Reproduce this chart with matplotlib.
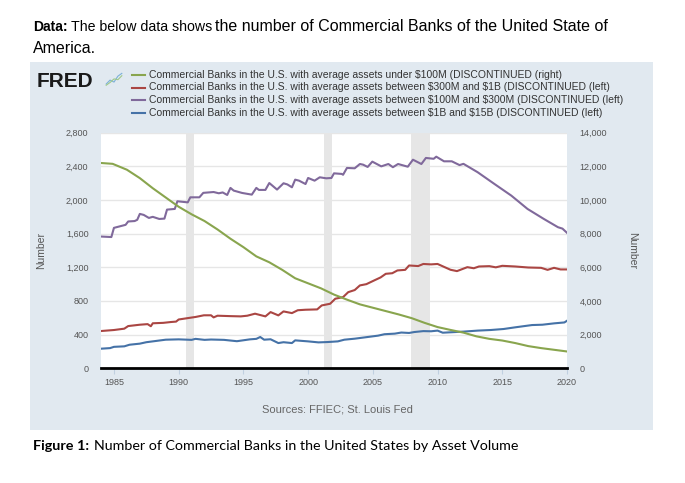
import matplotlib
matplotlib.use("Agg")
import matplotlib.pyplot as plt
import matplotlib.patches as patches
from matplotlib.ticker import FuncFormatter

# values (year, number of banks)
purple_x = [1984.0, 1984.8, 1985.0, 1985.4, 1985.9, 1986.1, 1986.6, 1986.8, 1987.0, 1987.3, 1987.7, 1988.0,
            1988.5, 1988.9, 1989.1, 1989.7, 1989.9, 1990.7, 1990.9, 1991.6, 1991.9, 1992.7, 1993.1, 1993.4,
            1993.75, 1994.0, 1994.25, 1994.9, 1995.65, 1996.0, 1996.2, 1996.7, 1997.0, 1997.3, 1997.6, 1998.1,
            1998.4, 1998.75, 1999.0, 1999.3, 1999.8, 2000.0, 2000.5, 2000.9, 2001.4, 2001.8, 2002.0, 2002.6,
            2002.7, 2003.0, 2003.6, 2004.0, 2004.25, 2004.6, 2004.96, 2005.65, 2006.2, 2006.55, 2006.95, 2007.7,
            2008.1, 2008.75, 2009.1, 2009.7, 2009.9, 2010.5, 2011.1, 2011.7, 2012.0, 2013.1, 2014.4, 2015.7,
            2016.95, 2018.2, 2019.3, 2019.65, 2020.0]
purple_y = [1566, 1560, 1669, 1685, 1705, 1745, 1750, 1765, 1835, 1823, 1787, 1800,
            1775, 1779, 1886, 1894, 1985, 1972, 2032, 2032, 2085, 2095, 2080, 2090,
            2060, 2144, 2112, 2084, 2064, 2144, 2120, 2120, 2202, 2163, 2124, 2199,
            2185, 2151, 2242, 2230, 2190, 2262, 2230, 2270, 2258, 2262, 2317, 2310,
            2300, 2381, 2377, 2428, 2420, 2393, 2456, 2400, 2428, 2390, 2428, 2396,
            2479, 2428, 2500, 2490, 2515, 2460, 2460, 2415, 2430, 2330, 2190, 2052,
            1894, 1776, 1677, 1660, 1610]

red_x = [1984.0, 1985.0, 1985.8, 1986.1, 1987.0, 1987.6, 1987.85, 1988.0, 1988.8, 1989.4, 1989.8, 1990.0,
         1990.9, 1991.3, 1991.95, 1992.5, 1992.7, 1993.0, 1994.0, 1994.8, 1995.3, 1995.9, 1996.7, 1997.1,
         1997.7, 1998.1, 1998.75, 1999.2, 1999.8, 2000.7, 2001.05, 2001.7, 2002.1, 2002.7, 2003.1, 2003.6,
         2004.0, 2004.5, 2005.1, 2005.6, 2006.0, 2006.5, 2006.9, 2007.5, 2007.8, 2008.5, 2008.9, 2009.5,
         2010.0, 2011.0, 2011.5, 2012.3, 2012.8, 2013.2, 2014.0, 2014.5, 2015.0, 2016.0, 2017.0, 2018.0,
         2018.5, 2019.0, 2019.5, 2020.0]
red_y = [443, 455, 471, 502, 518, 525, 500, 535, 540, 550, 555, 580,
         601, 610, 630, 630, 605, 625, 620, 617, 625, 649, 617, 668,
         629, 676, 656, 690, 696, 700, 747, 767, 827, 846, 905, 930,
         985, 1000, 1044, 1080, 1123, 1130, 1163, 1170, 1222, 1215, 1240, 1235,
         1240, 1171, 1155, 1202, 1189, 1210, 1214, 1200, 1218, 1210, 1198, 1194,
         1170, 1194, 1175, 1175]

blue_x = [1984.0, 1984.7, 1985.0, 1985.8, 1986.2, 1987.0, 1987.5, 1988.0, 1989.0, 1990.0, 1991.0, 1991.3,
          1992.0, 1992.5, 1993.5, 1994.0, 1994.5, 1995.5, 1996.0, 1996.3, 1996.6, 1997.1, 1997.7, 1998.1,
          1998.75, 1999.0, 2000.0, 2000.8, 2001.5, 2002.3, 2002.8, 2003.6, 2004.6, 2005.4, 2005.9, 2006.7,
          2007.2, 2007.8, 2008.2, 2008.9, 2009.5, 2010.0, 2010.4, 2011.0, 2012.0, 2013.1, 2014.1, 2015.1,
          2016.0, 2017.3, 2018.1, 2019.0, 2019.8, 2020.0]
blue_y = [233, 240, 255, 261, 280, 293, 310, 320, 340, 344, 338, 350,
          338, 342, 338, 330, 322, 344, 350, 372, 340, 345, 300, 310,
          300, 332, 320, 308, 312, 320, 340, 352, 372, 388, 405, 412,
          425, 420, 431, 442, 440, 448, 423, 428, 436, 448, 455, 467,
          487, 514, 518, 534, 545, 565]

# under $100M, right axis
green_x = [1984.0, 1984.9, 1986, 1987, 1988, 1989, 1990, 1991, 1992, 1993, 1994, 1995, 1996, 1997, 1998,
           1999, 2000, 2001, 2002, 2003, 2004, 2005, 2006, 2007, 2008, 2009, 2010, 2011, 2012, 2013, 2014,
           2015, 2016, 2017, 2018, 2019, 2020]
green_y = [12200, 12150, 11800, 11300, 10700, 10150, 9600, 9150, 8750, 8250, 7700, 7200, 6650, 6300, 5850,
           5350, 5050, 4750, 4380, 4080, 3800, 3600, 3400, 3200, 2980, 2700, 2450, 2280, 2120, 1900, 1750,
           1650, 1500, 1320, 1200, 1100, 1000]

recessions = [(1990.55, 1991.15), (2001.2, 2001.87), (2007.92, 2009.45)]

legend_labels = [
    r"Commercial Banks in the U.S. with average assets under \$100M (DISCONTINUED (right)",
    r"Commercial Banks in the U.S. with average assets between \$300M and \$1B (DISCONTINUED (left)",
    r"Commercial Banks in the U.S. with average assets between \$100M and \$300M (DISCONTINUED (left)",
    r"Commercial Banks in the U.S. with average assets between \$1B and \$15B (DISCONTINUED (left)",
]
colors = ["#89a54e", "#aa4643", "#80699b", "#4572a7"]

W, H = 685, 483
fig = plt.figure(figsize=(W / 100, H / 100), dpi=100)
fig.patch.set_facecolor("white")


def px(x, y):
    return x / W, 1 - y / H


# grey-blue FRED panel
fig.patches.append(patches.Rectangle(px(30, 430), 623 / W, 368 / H, transform=fig.transFigure,
                                     facecolor="#e1e9f0", edgecolor="none", zorder=-5))

# heading text
fig.text(*px(33, 31), "Data:", fontsize=10, fontweight="bold", family="Liberation Sans", va="baseline")
fig.text(*px(71, 31), "The below data shows", fontsize=10.2, family="Liberation Sans", va="baseline")
fig.text(*px(215, 31), "the number of Commercial Banks of the United State of", fontsize=11.5,
         family="Liberation Sans", va="baseline")
fig.text(*px(33, 53), "America.", fontsize=11.5, family="Liberation Sans", va="baseline")

# caption under the panel
fig.text(*px(33, 450), "Figure 1:", fontsize=10.4, fontweight="bold", family="Lato", va="baseline")
fig.text(*px(94, 450), "Number of Commercial Banks in the United States by Asset Volume", fontsize=10.3,
         family="Lato", va="baseline")

# FRED logo
fig.text(*px(37, 87), "FRED", fontsize=15, fontweight="heavy", family="Liberation Sans", color="#1a1a1a",
         va="baseline")
icon = fig.add_axes([105 / W, 1 - 88 / H, 18 / W, 17 / H])
icon.set_facecolor("#f4f7fa")
icon.plot([0, 1, 2, 3, 4], [0.5, 1.5, 1.0, 2.5, 3.2], color="#7ab0d8", lw=0.8)
icon.plot([0, 1, 2, 3, 4], [0.2, 0.9, 1.8, 1.6, 2.6], color="#9fc98a", lw=0.8)
icon.set_xlim(-0.3, 4.3)
icon.set_ylim(-0.5, 3.8)
icon.axis("off")

# legend rows
for i, (lab, c) in enumerate(zip(legend_labels, colors)):
    yy = 75 + i * 12.5
    fig.lines.append(plt.Line2D([132 / W, 145 / W], [1 - yy / H, 1 - yy / H], color=c, lw=1.5,
                                transform=fig.transFigure))
    fig.text(*px(149, yy), lab, fontsize=7.5, family="Liberation Sans", color="#333333", va="center")

# main axes
ax = fig.add_axes([101 / W, 1 - 368.3 / H, 466 / W, 235.6 / H])
ax2 = ax.twinx()
ax.set_zorder(1)
ax2.set_zorder(2)
ax.patch.set_facecolor("white")
ax2.patch.set_visible(False)

for a, b in recessions:
    ax.axvspan(a, b, color="#e6e6e6", lw=0, zorder=1)

ax.plot(red_x, red_y, color=colors[1], lw=1.5, zorder=3)
ax.plot(purple_x, purple_y, color=colors[2], lw=1.5, zorder=3)
ax.plot(blue_x, blue_y, color=colors[3], lw=1.5, zorder=3)
ax2.plot(green_x, green_y, color=colors[0], lw=1.5, zorder=3)

ax.set_xlim(1984, 2020)
ax.set_ylim(0, 2800)
ax2.set_ylim(0, 14000)
ax.set_yticks(range(0, 2801, 400))
ax2.set_yticks(range(0, 14001, 2000))
ax.set_xticks(range(1985, 2021, 5))
ax.yaxis.grid(True, color="#e6e6e6", lw=1)
ax.set_axisbelow(True)

fmt = FuncFormatter(lambda v, p: f"{int(v):,}")
ax.yaxis.set_major_formatter(fmt)
ax2.yaxis.set_major_formatter(fmt)

for a in (ax, ax2):
    for s in a.spines.values():
        s.set_visible(False)
ax.spines["bottom"].set_visible(True)
ax.spines["bottom"].set_color("black")
ax.spines["bottom"].set_linewidth(2)

ax.tick_params(axis="y", length=0, pad=9, labelsize=6.5, labelcolor="#555555")
ax2.tick_params(axis="y", length=0, pad=9, labelsize=6.5, labelcolor="#555555")
ax.tick_params(axis="x", length=4, width=0.8, color="#c0d0e0", pad=3, labelsize=6.5, labelcolor="#555555")
for t in ax.get_yticklabels() + ax2.get_yticklabels() + ax.get_xticklabels():
    t.set_family("Liberation Sans")

ax.set_ylabel("Number", fontsize=7.5, color="#555555", family="Liberation Sans", labelpad=14)
ax2.set_ylabel("Number", fontsize=7.5, color="#555555", family="Liberation Sans", rotation=270,
               labelpad=22)

fig.text(*px(337, 410), "Sources: FFIEC; St. Louis Fed", fontsize=8, color="#666666",
         family="Liberation Sans", ha="center", va="center")

fig.savefig("out.png", dpi=100)
